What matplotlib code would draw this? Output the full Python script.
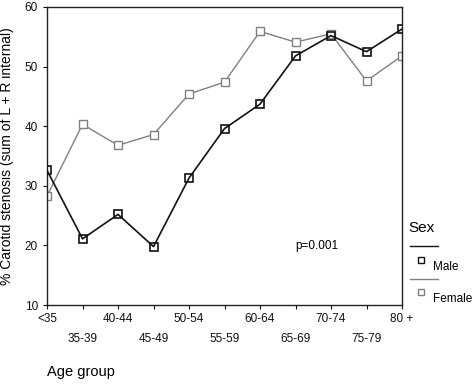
import matplotlib
matplotlib.use("Agg")
import matplotlib.pyplot as plt
from matplotlib.lines import Line2D

plt.rcParams["font.family"] = ["Liberation Sans", "DejaVu Sans"]

age_groups = ["<35", "35-39", "40-44", "45-49", "50-54", "55-59",
              "60-64", "65-69", "70-74", "75-79", "80 +"]
male = [32.6, 21.1, 25.2, 19.8, 31.3, 39.6, 43.7, 51.8, 55.2, 52.5, 56.3]
female = [28.3, 40.3, 36.8, 38.6, 45.4, 47.4, 55.9, 54.1, 55.5, 47.6, 51.8]

male_color = "#111111"
female_color = "#808080"

W, H = 474, 384


def fx(px):
    return px / W


def fy(py):
    return 1 - py / H


fig = plt.figure(figsize=(4.74, 3.84), dpi=100)
ax = fig.add_axes([0.0992, 0.2057, 0.7489, 0.7761])

x = list(range(len(age_groups)))
ax.plot(x, female, color=female_color, lw=1.0, marker="s", ms=5.2,
        mfc="white", mec=female_color, mew=1.0, zorder=2)
ax.plot(x, male, color=male_color, lw=1.2, marker="s", ms=5.2,
        mfc="none", mec=male_color, mew=1.2, zorder=3)

ax.set_xlim(0, len(age_groups) - 1)
ax.set_ylim(10, 60)
ax.set_yticks([10, 20, 30, 40, 50, 60])
ax.set_xticks(x)
ax.set_xticklabels(age_groups)
ax.tick_params(axis="both", direction="out", length=3, width=0.8,
               labelsize=8.5, colors="#111111")
ax.tick_params(axis="x", pad=3)
# every other age group sits on a second row
for i, t in enumerate(ax.xaxis.get_major_ticks()):
    if i % 2 == 1:
        t.set_pad(17)

for s in ax.spines.values():
    s.set_linewidth(1.0)
    s.set_color("#222222")

ax.set_ylabel("% Carotid stenosis (sum of L + R internal)", fontsize=10,
              labelpad=8)
fig.text(fx(47), fy(372), "Age group", fontsize=10.5, ha="left", va="center")
fig.text(fx(317), fy(246), "p=0.001", fontsize=8.5, ha="center", va="center")

# legend drawn by hand, SPSS style
fig.text(fx(408), fy(228), "Sex", fontsize=11, ha="left", va="center")
fig.add_artist(Line2D([fx(410), fx(438)], [fy(246), fy(246)],
                      color=male_color, lw=1.0))
fig.add_artist(Line2D([fx(421)], [fy(260)], marker="s", ms=4, mfc="none",
                      mec=male_color, mew=1.0, ls="none"))
fig.text(fx(433), fy(267), "Male", fontsize=8.5, ha="left", va="center")
fig.add_artist(Line2D([fx(410), fx(438)], [fy(279), fy(279)],
                      color=female_color, lw=1.0))
fig.add_artist(Line2D([fx(421)], [fy(292)], marker="s", ms=4, mfc="none",
                      mec=female_color, mew=1.0, ls="none"))
fig.text(fx(433), fy(299), "Female", fontsize=8.5, ha="left", va="center")

fig.savefig("out.png", dpi=100)
